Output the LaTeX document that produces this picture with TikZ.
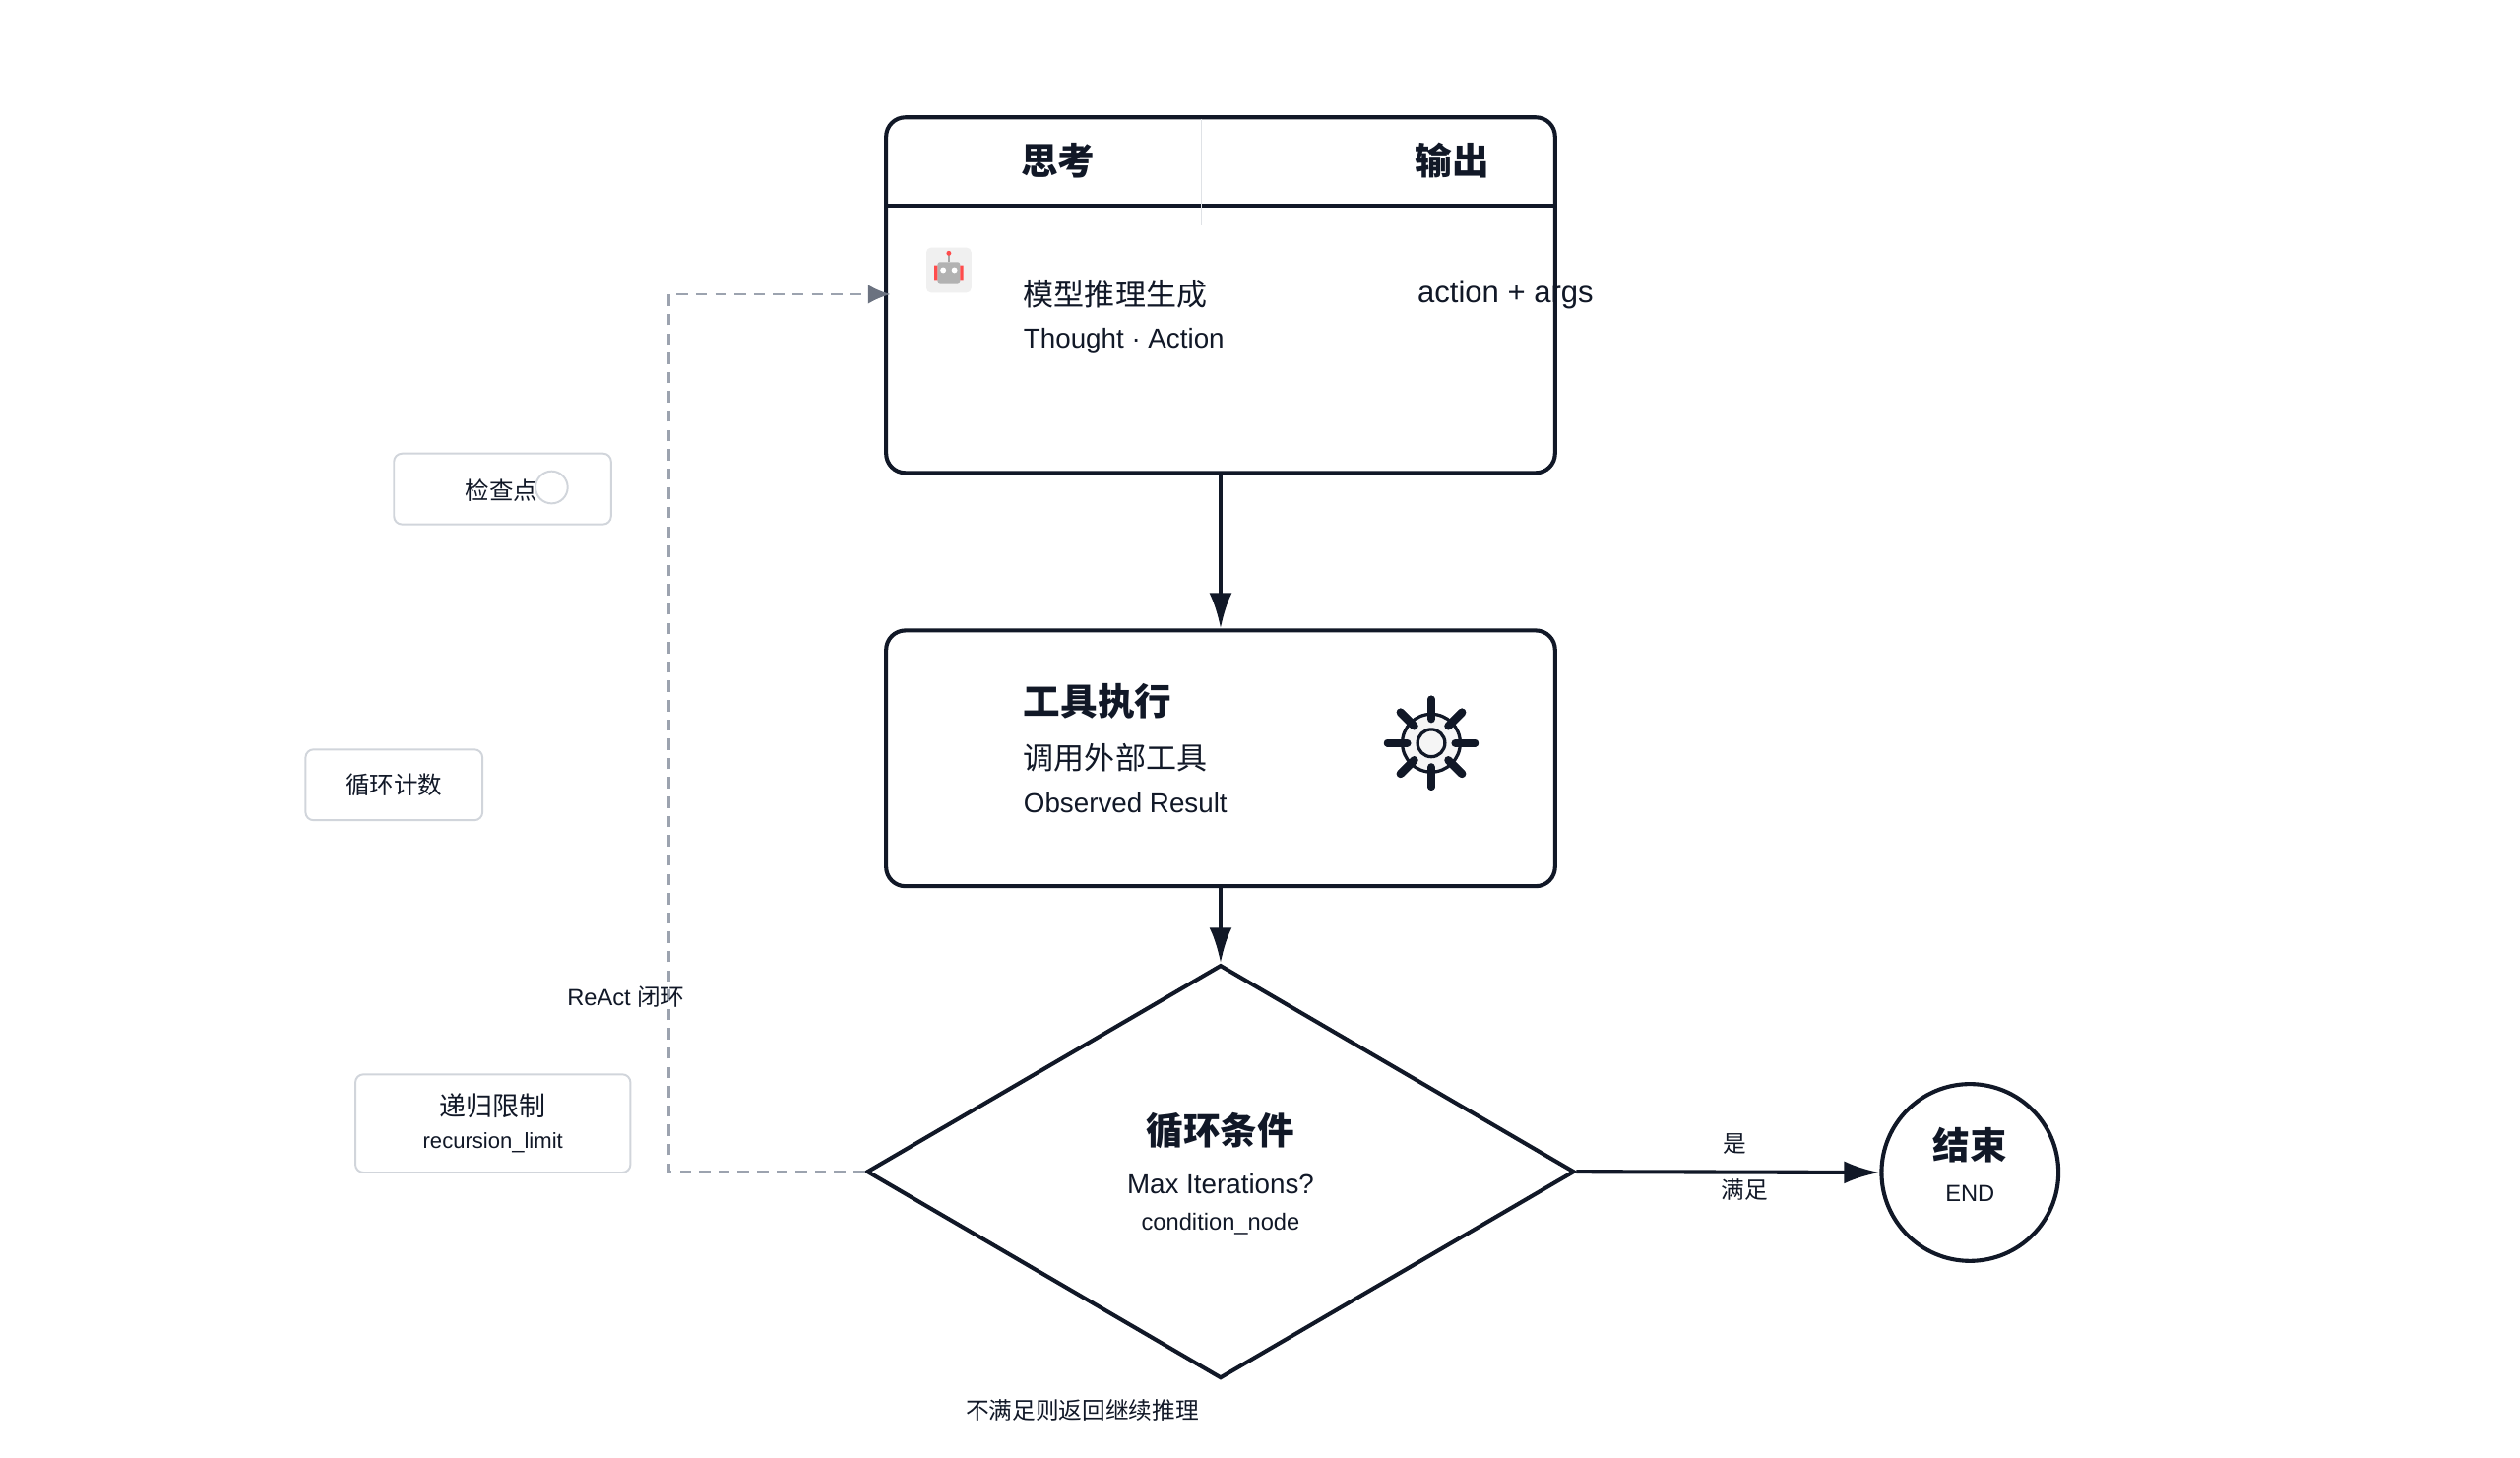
\documentclass[tikz,border=0pt]{standalone}
\usepackage{fontspec}
\setmainfont{Liberation Sans}
\newfontfamily\cjk{Noto Sans CJK SC}
\usepackage{tikz}
\usetikzlibrary{positioning}
\usetikzlibrary{shapes.geometric}
\usetikzlibrary{arrows.meta}
\usetikzlibrary{calc}
\definecolor{ink}{HTML}{111827}
\definecolor{loopgray}{HTML}{9CA3AF}
\definecolor{tipgray}{HTML}{6B7280}
\definecolor{sidegray}{HTML}{D1D5DB}
\tikzset{
  mainbox/.style={draw=ink, line width=2.5pt, rounded corners=12pt, fill=white},
  sidebox/.style={draw=sidegray, line width=1.2pt, rounded corners=5pt, align=center, font=\fontsize{15}{19}\selectfont\cjk, text=ink},
  flow/.style={-{Latex[length=22pt,width=14pt]}, draw=ink, line width=2.5pt},
  titletext/.style={font=\fontsize{23}{27}\selectfont\cjk\bfseries, text=ink},
  bodytext/.style={font=\fontsize{19}{23}\selectfont, text=ink},
  subtext/.style={font=\fontsize{17}{20}\selectfont, text=ink},
  smalltext/.style={font=\fontsize{14.5}{18}\selectfont, text=ink}
}
\begin{document}
\begin{tikzpicture}[x=1pt,y=-1pt]
\useasboundingbox (0,0) rectangle (1567,906);

% main flow
\node[mainbox, minimum width=416pt, minimum height=221pt] (think) at (759,183.5) {};
\node[mainbox, minimum width=416pt, minimum height=159pt] (tool) at (759,471.5) {};
\node[draw=ink, line width=2.5pt, diamond, minimum width=440pt, minimum height=257pt, inner sep=0pt] (cond) at (759,728.5) {};
\node[draw=ink, line width=2.5pt, circle, minimum size=110pt] (finish) at (1225,729) {};

% header of the thinking box
\draw[ink, line width=2pt] (think.west |- 0,128) -- (think.east |- 0,128);
\draw[sidegray!70, line width=1pt] (747,74) -- (747,140);
\node[titletext] (thinkhead) at (658,100) {思考};
\node[titletext] (outhead) at (903,100) {输出};

% robot icon
\node[fill=gray!12, rounded corners=3pt, minimum size=28pt] (robot) at (590,168) {};
\fill[gray!60, rounded corners=1.5pt] (583,163) rectangle (597,176);
\fill[red!70] (581,165) rectangle (583,174) (597,165) rectangle (599,174);
\draw[gray!70, line width=1pt] (590,163) -- (590,158);
\fill[red!70] (590,157.5) circle (1.5);
\fill[white] (586.5,168) circle (1.8) (593.5,168) circle (1.8);

\node[bodytext, anchor=west] (reason) at (633,183) {\cjk 模型推理生成};
\node[subtext, anchor=west] (thought) at (633,212) {Thought · Action};
\node[bodytext, anchor=west] (args) at (878,183) {action + args};

% tool box
\node[titletext, anchor=west] (toolhead) at (633,436) {工具执行};
\node[bodytext, anchor=west] (call) at (633,471) {\cjk 调用外部工具};
\node[subtext, anchor=west] (observed) at (633,499) {Observed Result};

% gear
\coordinate (gear) at (890,462);
\foreach \a in {0,45,...,315}
  \draw[ink, line width=5pt, line cap=round] ($(gear)+(\a:14)$) -- ($(gear)+(\a:27)$);
\filldraw[fill=gray!8, draw=ink, line width=2pt] (gear) circle (18);
\foreach \a in {0,45,...,315}
  \draw[ink, line width=5pt, line cap=round] ($(gear)+(\a:15)$) -- ($(gear)+(\a:27)$);
\draw[ink, line width=2pt] (gear) circle (8.5);

% condition
\node[titletext] (condhead) at (759,703) {循环条件};
\node[subtext] (maxit) at (759,736) {Max Iterations?};
\node[smalltext] (condnode) at (759,761) {condition\_node};
\node[titletext] (endhead) at (1225,712) {结束};
\node[smalltext] (endtext) at (1225,742) {END};

% arrows
\draw[flow] (think.south) -- (tool.north);
\draw[flow] (tool.south) -- (cond.north);
\draw[flow] (cond.east) -- (finish.west);
\node[smalltext] (yes) at (1079,711) {\cjk 是};
\node[smalltext] (met) at (1085,740) {\cjk 满足};

% loop back
\coordinate (loopin) at (think.west |- 0,183);
\draw[loopgray, line width=1.8pt, dash pattern=on 7pt off 5pt, -{Latex[length=14pt,width=12pt,fill=tipgray,color=tipgray]}] (cond.west) -| (416,183) -- ([xshift=4pt]loopin);
\node[smalltext] (react) at (389,620) {ReAct {\cjk 闭环}};
\node[smalltext] (back) at (673,877) {\cjk 不满足则返回继续推理};

% side notes
\node[sidebox, minimum width=135pt, minimum height=44pt] (checkpt) at (312.5,304) {};
\node[sidebox, draw=none] (checktext) at (312,305) {检查点};
\draw[sidegray, line width=1.2pt] (343,303) circle (10);
\node[sidebox, minimum width=110pt, minimum height=44pt] (counter) at (245,488) {循环计数};
\node[sidebox, minimum width=171pt, minimum height=61pt] (limit) at (306.5,698.5) {\fontsize{16.5}{20}\selectfont 递归限制\\[1pt] \fontsize{13.5}{17}\selectfont\rmfamily recursion\_limit};
\end{tikzpicture}
\end{document}
